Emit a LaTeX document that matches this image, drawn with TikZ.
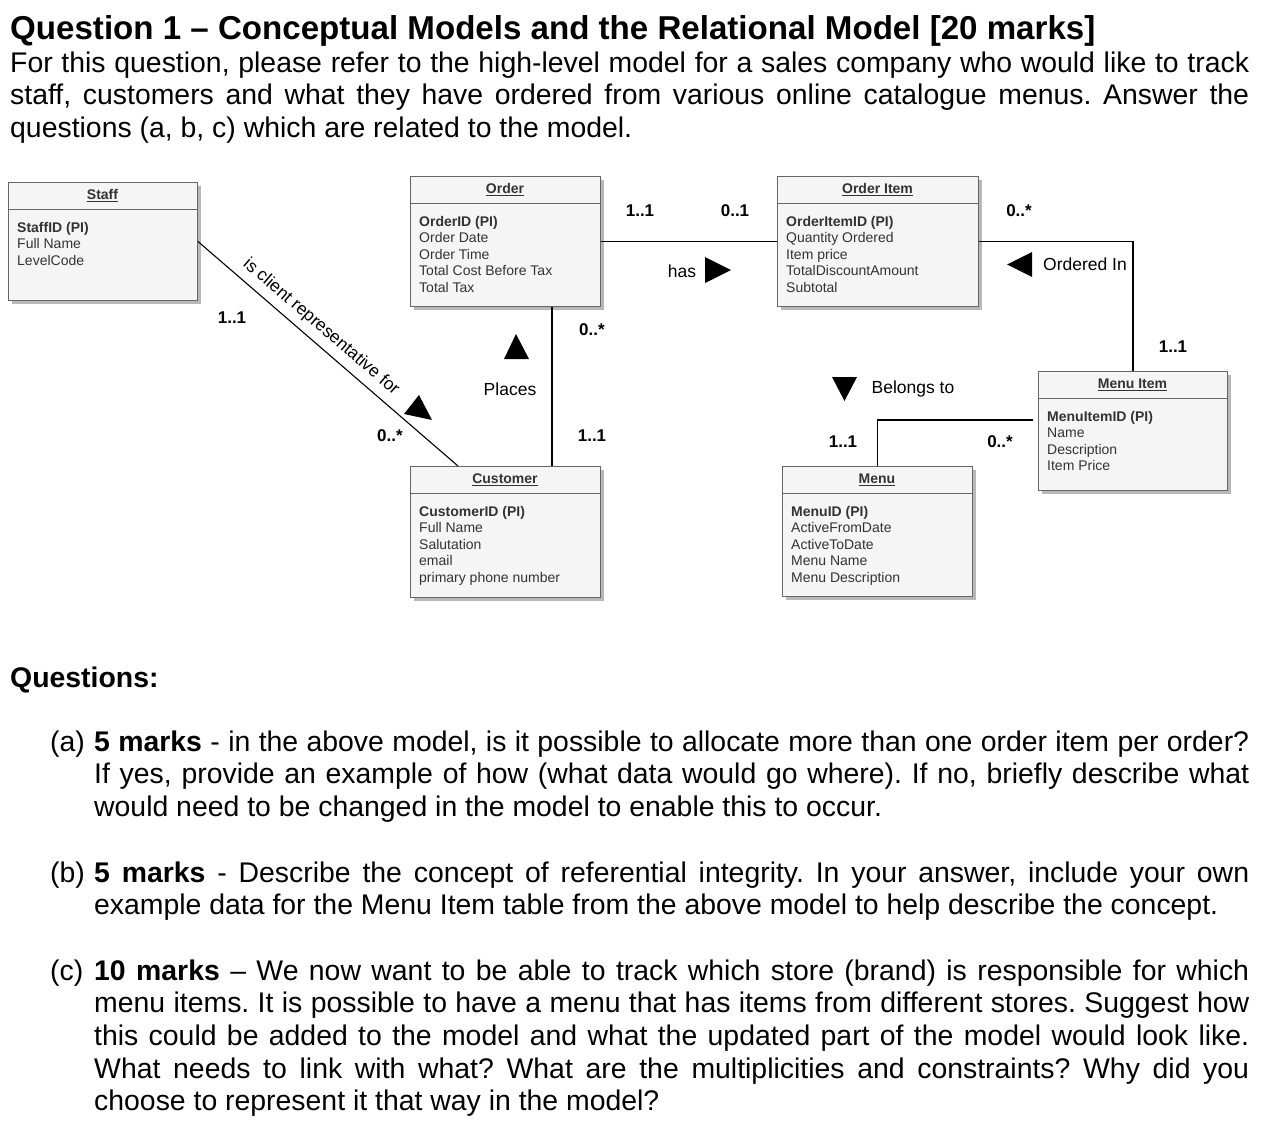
\documentclass[tikz,border=0pt]{standalone}
\usepackage{fontspec}
\setmainfont{Liberation Sans}
\usetikzlibrary{shadows,calc}
\definecolor{boxfill}{HTML}{F5F5F5}
\definecolor{boxline}{HTML}{666666}
\definecolor{boxtext}{HTML}{333333}
\newcommand\jl[1]{\makebox[\linewidth][s]{#1}}
\frenchspacing
\tikzset{
  ebox/.style={draw=boxline, fill=boxfill, line width=1pt, inner sep=0,
    drop shadow={shadow xshift=3pt, shadow yshift=-3pt, fill=black!28, opacity=1}},
  conn/.style={draw=black, line width=1.1pt},
  card/.style={font=\fontsize{17}{20}\selectfont\bfseries, inner sep=0},
  rlabel/.style={font=\fontsize{17.5}{20}\selectfont, inner sep=0},
  body/.style={inner sep=0, anchor=base west},
}
\newcommand\erbox[7]{%
  \node[ebox, anchor=north west, minimum width={(#4-#2)*1pt}, minimum height={(#5-#3)*1pt}] (#1) at (#2,#3) {};
  \draw[boxline, line width=0.8pt] (#2,#3+27) -- (#4,#3+27);
  \node[anchor=base, inner sep=0, text=boxtext, font=\fontsize{14}{16.5}\selectfont\bfseries] (#1-t) at ({(#2+#4)/2},#3+17.5) {\underline{#6}};
  \node[body, text=boxtext] (#1-a) at (#2+9,#3+50) {\parbox[t]{200pt}{\fontsize{14}{16.5}\selectfont #7}};
}
\begin{document}
\begin{tikzpicture}[x=1pt, y=-1pt]
\useasboundingbox (0,0) rectangle (1274,1141);

% ---- text above the diagram
\node[body, font=\fontsize{33.1}{38}\selectfont\bfseries] (title) at (10,39) {Question 1 – Conceptual Models and the Relational Model [20 marks]};
\node[body] (intro) at (10,72) {\parbox[t]{1239pt}{\fontsize{28.4}{32.7}\selectfont\frenchspacing
 \jl{For this question, please refer to the high-level model for a sales company who would like to track}\\
 \jl{staff, customers and what they have ordered from various online catalogue menus. Answer the}\\
 questions (a, b, c) which are related to the model.}};

% ---- boxes
\erbox{staff}{8}{182}{197}{300}{Staff}{\textbf{StaffID (PI)}\\Full Name\\LevelCode}
\erbox{order}{410}{176}{600}{306}{Order}{\textbf{OrderID (PI)}\\Order Date\\Order Time\\Total Cost Before Tax\\Total Tax}
\erbox{oitem}{777}{176}{978}{306}{Order Item}{\textbf{OrderItemID (PI)}\\Quantity Ordered\\Item price\\TotalDiscountAmount\\Subtotal}
\erbox{mitem}{1038}{371}{1227}{490}{Menu Item}{\textbf{MenuItemID (PI)}\\Name\\Description\\Item Price}
\erbox{customer}{410}{466}{600}{597}{Customer}{\textbf{CustomerID (PI)}\\Full Name\\Salutation\\email\\primary phone number}
\erbox{menu}{782}{466}{972}{596}{Menu}{\textbf{MenuID (PI)}\\ActiveFromDate\\ActiveToDate\\Menu Name\\Menu Description}

% ---- connectors
\coordinate (dg) at (458,0);
\coordinate (cx) at (552,0);
\coordinate (mlink) at ($(mitem.west)+(-5,-11)$);
\draw[conn] (staff.east) -- (customer.north -| dg);
\draw[conn] (order.south -| cx) -- (customer.north -| cx);
\draw[conn] (order.east) -- (oitem.west);
\draw[conn] (oitem.east) -| (mitem.north);
\draw[conn] (mlink) -| (menu.north);

% ---- relationship labels
\node[rlabel, rotate=-40.6] (lrep) at (321,327) {is client representative for};
\fill (419,395) -- (404,414) -- (432,420) -- cycle;
\node[card] (c1) at (232,318) {1..1};
\node[card] (c2) at (390,436) {0..*};

\node[rlabel] (lplaces) at (510,389) {Places};
\fill (516,334) -- (504,359) -- (529,359) -- cycle;
\node[card] (c3) at (592,330) {0..*};
\node[card] (c4) at (592,436) {1..1};

\node[rlabel] (lhas) at (682,271) {has};
\fill (705,257) -- (705,283) -- (731,270) -- cycle;
\node[card] (c5) at (640,211) {1..1};
\node[card] (c6) at (735,211) {0..1};

\node[rlabel] (lord) at (1085,264) {Ordered In};
\fill (1007,264.5) -- (1032,252) -- (1032,277) -- cycle;
\node[card] (c7) at (1019,211) {0..*};
\node[card] (c8) at (1173,347) {1..1};

\node[rlabel] (lbel) at (913,389) {Belongs to};
\fill (832,377) -- (857,377) -- (844.5,401) -- cycle;
\node[card] (c9) at (843,442) {1..1};
\node[card] (c10) at (1000,442) {0..*};

% ---- questions
\node[body, font=\fontsize{28.4}{32.7}\selectfont\bfseries] (qh) at (10,687) {Questions:};
\node[body, font=\fontsize{28.4}{32.7}\selectfont] (qal) at (50,751) {(a)};
\node[body] (qa) at (94,751) {\parbox[t]{1155pt}{\fontsize{28.4}{32.7}\selectfont\frenchspacing
 \jl{\textbf{5 marks} - in the above model, is it possible to allocate more than one order item per order?}\\
 \jl{If yes, provide an example of how (what data would go where). If no, briefly describe what}\\
 would need to be changed in the model to enable this to occur.}};
\node[body, font=\fontsize{28.4}{32.7}\selectfont] (qbl) at (50,882) {(b)};
\node[body] (qb) at (94,882) {\parbox[t]{1155pt}{\fontsize{28.4}{32.7}\selectfont\frenchspacing
 \jl{\textbf{5 marks} - Describe the concept of referential integrity. In your answer, include your own}\\
 example data for the Menu Item table from the above model to help describe the concept.}};
\node[body, font=\fontsize{28.4}{32.7}\selectfont] (qcl) at (50,980) {(c)};
\node[body] (qc) at (94,980) {\parbox[t]{1155pt}{\fontsize{28.4}{32.7}\selectfont\frenchspacing
 \jl{\textbf{10 marks} – We now want to be able to track which store (brand) is responsible for which}\\
 \jl{menu items. It is possible to have a menu that has items from different stores. Suggest how}\\
 \jl{this could be added to the model and what the updated part of the model would look like.}\\
 \jl{What needs to link with what? What are the multiplicities and constraints? Why did you}\\
 choose to represent it that way in the model?}};
\end{tikzpicture}
\end{document}
